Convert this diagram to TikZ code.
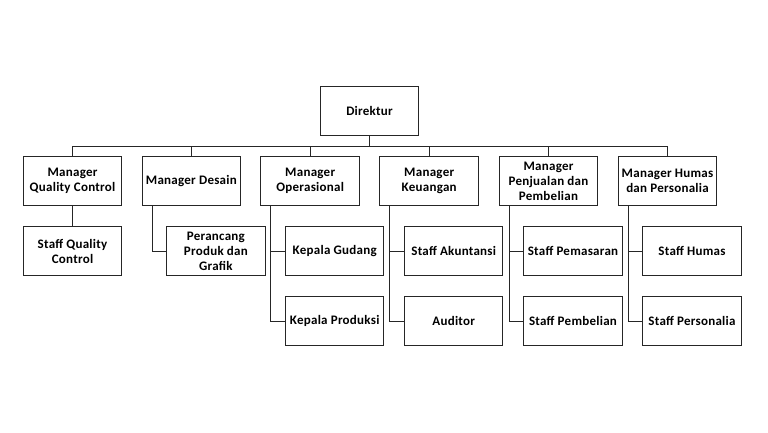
\documentclass[tikz,border=0pt]{standalone}
\usepackage{fontspec}
\setmainfont{Carlito}[LetterSpace=2]
\begin{document}
\begin{tikzpicture}[x=1pt,y=-1pt,
  box/.style={draw=black!85,line width=1pt,rectangle,minimum width=98.5pt,minimum height=49pt,inner sep=1pt,align=center,font=\fontsize{13}{15}\selectfont\bfseries},
  conn/.style={draw=black!85,line width=1pt}]
\useasboundingbox (0,0) rectangle (768,433);
\node[box] (dir) at (369.5,111.2) {Direktur};
\node[box] (m1) at (72.5,181) {Manager\\Quality Control};
\node[box] (m2) at (191.4,181) {Manager Desain};
\node[box] (m3) at (310.2,181) {Manager\\Operasional};
\node[box] (m4) at (429.2,181) {Manager\\Keuangan};
\node[box] (m5) at (548.5,181) {Manager\\Penjualan dan\\Pembelian};
\node[box] (m6) at (667.5,181) {Manager Humas\\dan Personalia};
\node[box] (c1) at (72.5,251) {Staff Quality\\Control};
\node[box] (c2) at (215.9,251) {Perancang\\Produk dan\\Grafik};
\node[box] (c3a) at (334.7,251) {Kepala Gudang};
\node[box] (c3b) at (334.7,321) {Kepala Produksi};
\node[box] (c4a) at (453.7,251) {Staff Akuntansi};
\node[box] (c4b) at (453.7,321) {Auditor};
\node[box] (c5a) at (573,251) {Staff Pemasaran};
\node[box] (c5b) at (573,321) {Staff Pembelian};
\node[box] (c6a) at (692,251) {Staff Humas};
\node[box] (c6b) at (692,321) {Staff Personalia};
\coordinate (bus) at (0,146);
\draw[conn] (dir.south) -- (dir.south |- bus);
\draw[conn] (m1.north) -- (m1.north |- bus) -- (m6.north |- bus) -- (m6.north);
\foreach \m in {m2,m3,m4,m5} \draw[conn] (\m.north) -- (\m.north |- bus);
\draw[conn] (m1.south) -- (c1.north);
\draw[conn] ([xshift=10.5pt]m2.south west) |- (c2.west);
\foreach \m/\c in {m3/c3,m4/c4,m5/c5,m6/c6} {
  \draw[conn] ([xshift=10.5pt]\m.south west) |- (\c b.west);
  \draw[conn] ([xshift=10.5pt]\m.south west |- \c a.west) -- (\c a.west);
}
\end{tikzpicture}
\end{document}
